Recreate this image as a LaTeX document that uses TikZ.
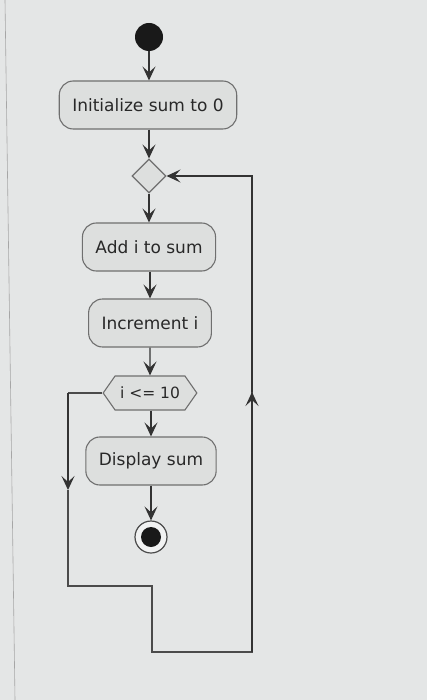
\documentclass[tikz,border=0pt]{standalone}
\usepackage{fontspec}
\setmainfont{DejaVu Sans}
\usepackage{tikz}
\usetikzlibrary{arrows.meta, shapes.geometric, shapes.symbols}
\definecolor{mybg}{RGB}{228, 230, 230}
\definecolor{myfill}{RGB}{221, 223, 222}
\definecolor{myline}{RGB}{75, 75, 75}
\definecolor{mytext}{RGB}{40, 40, 40}
\tikzset{>={Stealth[length=14pt, width=13pt, inset=6pt]}}
\tikzset{
  action/.style={draw=myline!80, fill=myfill, rounded corners=14pt, line width=1.1pt,
    minimum height=48pt, inner xsep=13pt, text=mytext, font=\fontsize{17}{20}\selectfont},
  flow/.style={->, draw=black!80, line width=1.2pt},
  loopline/.style={draw=myline, line width=1.2pt}
}

\begin{document}
\begin{tikzpicture}[x=1pt, y=-1pt]
\fill[mybg] (0, 0) rectangle (427, 700);
\useasboundingbox (0, 0) rectangle (427, 700);
\draw[black!35, line width=0.6pt] (5, 0) -- (15, 700);

% start and actions
\node[circle, fill=black!90, minimum size=28pt, inner sep=0pt] (start) at (149, 37) {};
\node[action] (init) at (148, 105) {Initialize sum to 0};
\node[diamond, draw=myline!80, fill=myfill, line width=1.1pt, minimum size=34pt, inner sep=0pt] (merge) at (149, 176) {};
\node[action] (add) at (149, 247) {Add i to sum};
\node[action] (incr) at (150, 323) {Increment i};
\node[signal, signal to=west and east, signal pointer angle=110, draw=myline!80, fill=myfill,
  line width=1.1pt, minimum height=34pt, inner xsep=5pt, text=mytext,
  font=\fontsize{15.5}{18}\selectfont] (cond) at (150, 393) {i <= 10};
\node[action] (disp) at (151, 461) {Display sum};
\node[circle, draw=myline, fill=white!60!myfill, line width=1.2pt, minimum size=32pt, inner sep=0pt] (stop) at (151, 537) {};
\node[circle, fill=black!90, minimum size=20pt, inner sep=0pt] (stopdot) at (stop) {};

% main flow
\draw[flow] (start) -- (start |- init.north);
\draw[flow] (merge |- init.south) -- (merge);
\draw[flow] (merge) -- (merge |- add.north);
\draw[flow] (incr |- add.south) -- (incr);
\draw[flow] (incr) -- (cond);
\draw[flow] (disp |- cond.south) -- (disp);
\draw[flow] (disp) -- (stop);

% loop back
\coordinate (lturn) at (68, 393);
\coordinate (ldown) at (68, 490);
\coordinate (lbot) at (68, 586);
\coordinate (mbot) at (152, 586);
\coordinate (rbot) at (252, 652);
\coordinate (rup) at (252, 392);
\draw[loopline] (cond.west) -- (lturn);
\draw[flow] (lturn) -- (ldown);
\draw[loopline] (ldown) -- (lbot) -- (mbot) |- (rbot) -- (rup);
\draw[flow] (rbot) -- (rup);
\draw[flow] (rup) |- (merge.east);

\end{tikzpicture}
\end{document}
